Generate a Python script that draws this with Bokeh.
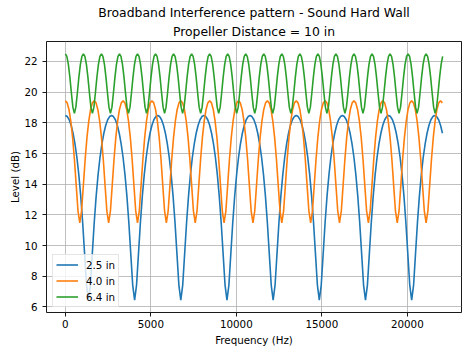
import numpy as np
from bokeh.plotting import figure
from bokeh.models import Range1d, FixedTicker, Title
from bokeh.embed import file_html
from bokeh.resources import INLINE

# ---- data ----
series_labels = ["2.5 in", "4.0 in", "6.4 in"]
series_colors = ["#1f77b4", "#ff7f0e", "#2ca02c"]

# frequency sampling step of each series (Hz)
step_25 = 112.53
step_40 = 105.50
step_64 = 87.916

level_25 = [
    18.48, 18.41, 18.20, 17.84, 17.32, 16.63, 15.74, 14.61, 13.21, 11.49, 9.46, 7.43, 6.44, 7.43, 9.46, 11.49, 13.21, 14.61, 15.74, 16.63, 17.32, 17.84, 18.20, 18.41,
    18.48, 18.41, 18.20, 17.84, 17.32, 16.63, 15.74, 14.61, 13.21, 11.49, 9.46, 7.43, 6.44, 7.43, 9.46, 11.49, 13.21, 14.61, 15.74, 16.63, 17.32, 17.84, 18.20, 18.41,
    18.48, 18.41, 18.20, 17.84, 17.32, 16.63, 15.74, 14.61, 13.21, 11.49, 9.46, 7.43, 6.44, 7.43, 9.46, 11.49, 13.21, 14.61, 15.74, 16.63, 17.32, 17.84, 18.20, 18.41,
    18.48, 18.41, 18.20, 17.84, 17.32, 16.63, 15.74, 14.61, 13.21, 11.49, 9.46, 7.43, 6.44, 7.43, 9.46, 11.49, 13.21, 14.61, 15.74, 16.63, 17.32, 17.84, 18.20, 18.41,
    18.48, 18.41, 18.20, 17.84, 17.32, 16.63, 15.74, 14.61, 13.21, 11.49, 9.46, 7.43, 6.44, 7.43, 9.46, 11.49, 13.21, 14.61, 15.74, 16.63, 17.32, 17.84, 18.20, 18.41,
    18.48, 18.41, 18.20, 17.84, 17.32, 16.63, 15.74, 14.61, 13.21, 11.49, 9.46, 7.43, 6.44, 7.43, 9.46, 11.49, 13.21, 14.61, 15.74, 16.63, 17.32, 17.84, 18.20, 18.41,
    18.48, 18.41, 18.20, 17.84, 17.32, 16.63, 15.74, 14.61, 13.21, 11.49, 9.46, 7.43, 6.44, 7.43, 9.46, 11.49, 13.21, 14.61, 15.74, 16.63, 17.32, 17.84, 18.20, 18.41,
    18.48, 18.41, 18.20, 17.84, 17.32, 16.63, 15.74, 14.61, 13.21, 11.49, 9.46, 7.43, 6.44, 7.43, 9.46, 11.49, 13.21, 14.61, 15.74, 16.63, 17.32, 17.84, 18.20, 18.41,
    18.48, 18.41, 18.20, 17.84, 17.32,
]

level_40 = [
    19.44, 19.30, 18.87, 18.13, 17.07, 15.66, 13.96, 12.27, 11.48, 12.27, 13.96, 15.66, 17.07, 18.13, 18.87, 19.30,
    19.44, 19.30, 18.87, 18.13, 17.07, 15.66, 13.96, 12.27, 11.48, 12.27, 13.96, 15.66, 17.07, 18.13, 18.87, 19.30,
    19.44, 19.30, 18.87, 18.13, 17.07, 15.66, 13.96, 12.27, 11.48, 12.27, 13.96, 15.66, 17.07, 18.13, 18.87, 19.30,
    19.44, 19.30, 18.87, 18.13, 17.07, 15.66, 13.96, 12.27, 11.48, 12.27, 13.96, 15.66, 17.07, 18.13, 18.87, 19.30,
    19.44, 19.30, 18.87, 18.13, 17.07, 15.66, 13.96, 12.27, 11.48, 12.27, 13.96, 15.66, 17.07, 18.13, 18.87, 19.30,
    19.44, 19.30, 18.87, 18.13, 17.07, 15.66, 13.96, 12.27, 11.48, 12.27, 13.96, 15.66, 17.07, 18.13, 18.87, 19.30,
    19.44, 19.30, 18.87, 18.13, 17.07, 15.66, 13.96, 12.27, 11.48, 12.27, 13.96, 15.66, 17.07, 18.13, 18.87, 19.30,
    19.44, 19.30, 18.87, 18.13, 17.07, 15.66, 13.96, 12.27, 11.48, 12.27, 13.96, 15.66, 17.07, 18.13, 18.87, 19.30,
    19.44, 19.30, 18.87, 18.13, 17.07, 15.66, 13.96, 12.27, 11.48, 12.27, 13.96, 15.66, 17.07, 18.13, 18.87, 19.30,
    19.44, 19.30, 18.87, 18.13, 17.07, 15.66, 13.96, 12.27, 11.48, 12.27, 13.96, 15.66, 17.07, 18.13, 18.87, 19.30,
    19.44, 19.30, 18.87, 18.13, 17.07, 15.66, 13.96, 12.27, 11.48, 12.27, 13.96, 15.66, 17.07, 18.13, 18.87, 19.30,
    19.44, 19.30, 18.87, 18.13, 17.07, 15.66, 13.96, 12.27, 11.48, 12.27, 13.96, 15.66, 17.07, 18.13, 18.87, 19.30,
    19.44, 19.30, 18.87, 18.13, 17.07, 15.66, 13.96, 12.27, 11.48, 12.27, 13.96, 15.66, 17.07, 18.13, 18.87, 19.30,
    19.44, 19.30,
]

level_64 = [
    22.50, 22.33, 21.81, 20.98, 19.96, 19.02, 18.62, 19.02, 19.96, 20.98, 21.81, 22.33,
    22.50, 22.33, 21.81, 20.98, 19.96, 19.02, 18.62, 19.02, 19.96, 20.98, 21.81, 22.33,
    22.50, 22.33, 21.81, 20.98, 19.96, 19.02, 18.62, 19.02, 19.96, 20.98, 21.81, 22.33,
    22.50, 22.33, 21.81, 20.98, 19.96, 19.02, 18.62, 19.02, 19.96, 20.98, 21.81, 22.33,
    22.50, 22.33, 21.81, 20.98, 19.96, 19.02, 18.62, 19.02, 19.96, 20.98, 21.81, 22.33,
    22.50, 22.33, 21.81, 20.98, 19.96, 19.02, 18.62, 19.02, 19.96, 20.98, 21.81, 22.33,
    22.50, 22.33, 21.81, 20.98, 19.96, 19.02, 18.62, 19.02, 19.96, 20.98, 21.81, 22.33,
    22.50, 22.33, 21.81, 20.98, 19.96, 19.02, 18.62, 19.02, 19.96, 20.98, 21.81, 22.33,
    22.50, 22.33, 21.81, 20.98, 19.96, 19.02, 18.62, 19.02, 19.96, 20.98, 21.81, 22.33,
    22.50, 22.33, 21.81, 20.98, 19.96, 19.02, 18.62, 19.02, 19.96, 20.98, 21.81, 22.33,
    22.50, 22.33, 21.81, 20.98, 19.96, 19.02, 18.62, 19.02, 19.96, 20.98, 21.81, 22.33,
    22.50, 22.33, 21.81, 20.98, 19.96, 19.02, 18.62, 19.02, 19.96, 20.98, 21.81, 22.33,
    22.50, 22.33, 21.81, 20.98, 19.96, 19.02, 18.62, 19.02, 19.96, 20.98, 21.81, 22.33,
    22.50, 22.33, 21.81, 20.98, 19.96, 19.02, 18.62, 19.02, 19.96, 20.98, 21.81, 22.33,
    22.50, 22.33, 21.81, 20.98, 19.96, 19.02, 18.62, 19.02, 19.96, 20.98, 21.81, 22.33,
    22.50, 22.33, 21.81, 20.98, 19.96, 19.02, 18.62, 19.02, 19.96, 20.98, 21.81, 22.33,
    22.50, 22.33, 21.81, 20.98, 19.96, 19.02, 18.62, 19.02, 19.96, 20.98, 21.81, 22.33,
    22.50, 22.33, 21.81, 20.98, 19.96, 19.02, 18.62, 19.02, 19.96, 20.98, 21.81, 22.33,
    22.50, 22.33, 21.81, 20.98, 19.96, 19.02, 18.62, 19.02, 19.96, 20.98, 21.81, 22.33,
    22.50, 22.33, 21.81, 20.98, 19.96, 19.02, 18.62, 19.02, 19.96, 20.98, 21.81, 22.33,
    22.50, 22.33, 21.81, 20.98, 19.96, 19.02, 18.62, 19.02, 19.96, 20.98, 21.81, 22.33,
]

freq_25 = np.arange(len(level_25)) * step_25
freq_40 = np.arange(len(level_40)) * step_40
freq_64 = np.arange(len(level_64)) * step_64

x_ticks = [0, 5000, 10000, 15000, 20000]
y_ticks = [6, 8, 10, 12, 14, 16, 18, 20, 22]

title_line1 = "Broadband Interference pattern - Sound Hard Wall"
title_line2 = "Propeller Distance = 10 in"

FONT = "DejaVu Sans"

p = figure(width=474, height=355, output_backend="svg", toolbar_location=None,
           x_range=Range1d(-1103, 23170), y_range=Range1d(5.64, 23.30),
           min_border_left=46, min_border_right=13, min_border_top=41,
           min_border_bottom=43)
p.title.text = ""
p.add_layout(Title(text=title_line2, align="center", text_font=FONT,
                   text_font_size="12.4px", text_font_style="normal",
                   text_color="black", standoff=5), "above")
p.add_layout(Title(text=title_line1, align="center", text_font=FONT,
                   text_font_size="12.4px", text_font_style="normal",
                   text_color="black", standoff=0), "above")

for xs, ys, lab, col in zip([freq_25, freq_40, freq_64],
                            [level_25, level_40, level_64],
                            series_labels, series_colors):
    p.line(xs, ys, line_color=col, line_width=1.6, legend_label=lab)

p.outline_line_color = "black"
p.outline_line_width = 0.9
p.background_fill_color = "white"
p.border_fill_color = "white"

for ax in (p.xaxis[0], p.yaxis[0]):
    ax.axis_line_color = None
    ax.major_tick_line_color = "black"
    ax.major_tick_line_width = 0.9
    ax.major_tick_in = 0
    ax.major_tick_out = 4
    ax.minor_tick_line_color = None
    ax.major_label_text_font = FONT
    ax.major_label_text_font_size = "10.3px"
    ax.major_label_text_color = "black"
    ax.axis_label_text_font = FONT
    ax.axis_label_text_font_size = "10.3px"
    ax.axis_label_text_font_style = "normal"
    ax.axis_label_text_color = "black"

p.xaxis.ticker = FixedTicker(ticks=x_ticks)
p.yaxis.ticker = FixedTicker(ticks=y_ticks)
p.xaxis.axis_label = "Frequency (Hz)"
p.yaxis.axis_label = "Level (dB)"
p.xaxis.major_label_standoff = 3
p.xaxis.axis_label_standoff = 3
p.yaxis.major_label_standoff = 5
p.yaxis.axis_label_standoff = 0

p.grid.grid_line_color = "#b0b0b0"
p.grid.grid_line_width = 0.8
p.xgrid.ticker = FixedTicker(ticks=x_ticks)
p.ygrid.ticker = FixedTicker(ticks=y_ticks)

lg = p.legend[0]
lg.location = (6, 5)
lg.label_text_font = FONT
lg.label_text_font_size = "10.3px"
lg.label_text_color = "black"
lg.glyph_width = 22
lg.glyph_height = 13
lg.label_height = 13
lg.label_standoff = 8
lg.spacing = 3
lg.padding = 3
lg.margin = 0
lg.border_line_color = "#cccccc"
lg.border_line_width = 1
lg.background_fill_color = "white"
lg.background_fill_alpha = 0.8

open("out.html", "w").write(file_html(p, INLINE))
